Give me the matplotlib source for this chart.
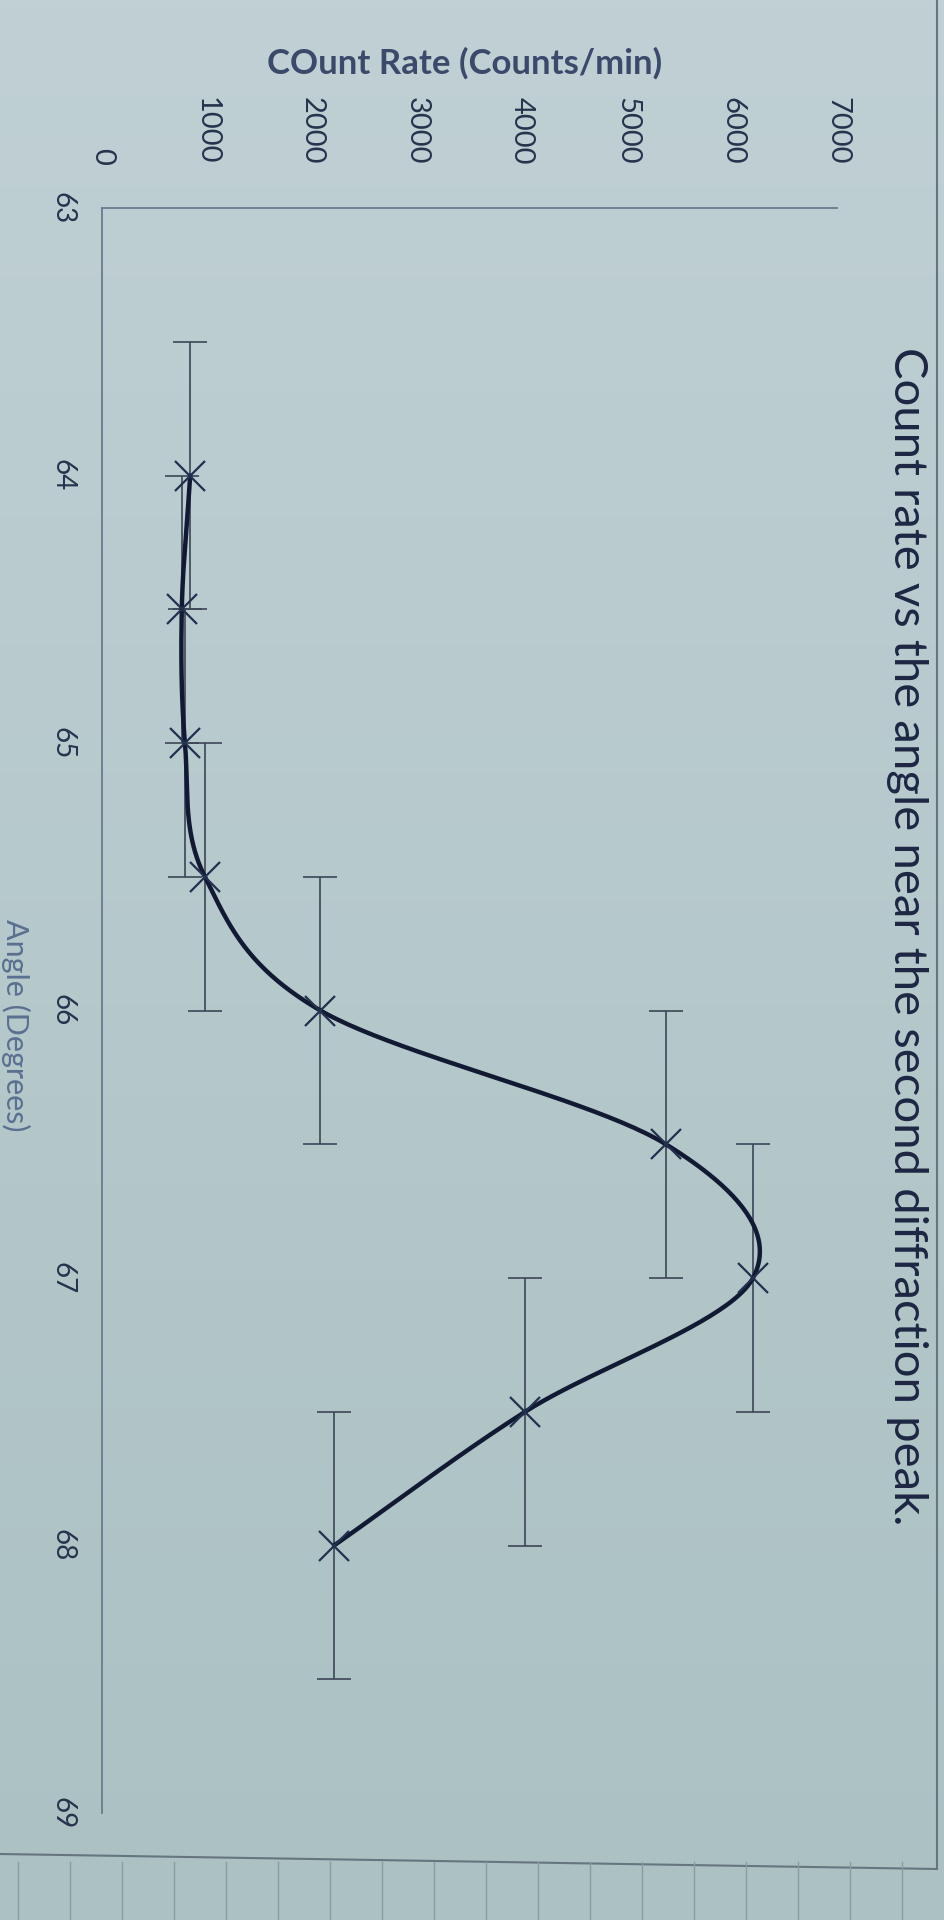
import numpy as np
import matplotlib
matplotlib.use('Agg')
import matplotlib.pyplot as plt
from matplotlib.colors import to_rgb
from matplotlib.lines import Line2D

angles = [64.0, 64.5, 65.0, 65.5, 66.0, 66.5, 67.0, 67.5, 68.0]
counts = [840, 760, 790, 980, 2080, 5370, 6200, 4030, 2210]
angle_err = [0.5, 0.5, 0.5, 0.5, 0.5, 0.5, 0.5, 0.5, 0.5]

angle_ticks = [63, 64, 65, 66, 67, 68, 69]
count_ticks = [0, 1000, 2000, 3000, 4000, 5000, 6000, 7000]

title = 'Count rate vs the angle near the second diffraction peak.'
count_label = 'COunt Rate (Counts/min)'
angle_label = 'Angle (Degrees)'

W, H = 944, 1920
plt.rcParams['font.family'] = ['Lato', 'DejaVu Sans']

fig = plt.figure(figsize=(W / 100, H / 100), dpi=100)


def px(x0, y0, x1, y1):
    # pixel box (from top-left) -> figure fraction rect
    return [x0 / W, 1 - y1 / H, (x1 - x0) / W, (y1 - y0) / H]


# photo-like background
bg = fig.add_axes([0, 0, 1, 1], zorder=-10)
top = np.array(to_rgb('#c0d0d4'))
bot = np.array(to_rgb('#abc1c2'))
t = np.linspace(0, 1, 256)[:, None]
grad = (top * (1 - t) + bot * t)[:, None, :]
bg.imshow(grad, aspect='auto', extent=[0, 1, 0, 1])
bg.set_xlim(0, 1)
bg.set_ylim(0, 1)
bg.axis('off')

# chart is shown rotated: angle runs down, count rate runs right
ax = fig.add_axes(px(102, 208, 837, 1813))
ax.set_facecolor('none')
ax.set_xlim(0, 7000)
ax.set_ylim(69, 63)

for side in ['right', 'bottom']:
    ax.spines[side].set_visible(False)
for side in ['left', 'top']:
    ax.spines[side].set_color('#687c8d')
    ax.spines[side].set_linewidth(1.3)

tick_color = '#27324d'
ax.xaxis.tick_top()
ax.set_xticks(count_ticks)
ax.set_xticklabels([str(c) for c in count_ticks], rotation=270, ha='center', va='bottom',
                   fontsize=21, color=tick_color)
ax.tick_params(axis='x', length=0, pad=31)
ax.set_yticks(angle_ticks)
ax.set_yticklabels([str(a) for a in angle_ticks], rotation=270, ha='right', va='center',
                   fontsize=20, color=tick_color)
ax.tick_params(axis='y', length=0, pad=19)

ax.errorbar(counts, angles, yerr=angle_err, fmt='none', ecolor='#3c4655',
            elinewidth=1.2, capsize=12, capthick=1.2, zorder=2)

# smoothed line through the points (Catmull-Rom in screen space, like Excel)
pts = ax.transData.transform(np.column_stack([counts, angles]))
p = np.vstack([2 * pts[0] - pts[1], pts, 2 * pts[-1] - pts[-2]])
s = np.linspace(0, 1, 50)[:, None]
seg = []
for i in range(1, len(p) - 2):
    p0, p1, p2, p3 = p[i - 1], p[i], p[i + 1], p[i + 2]
    c = 0.5 * ((2 * p1) + (-p0 + p2) * s + (2 * p0 - 5 * p1 + 4 * p2 - p3) * s ** 2
               + (-p0 + 3 * p1 - 3 * p2 + p3) * s ** 3)
    seg.append(c)
curve = ax.transData.inverted().transform(np.vstack(seg))
ax.plot(curve[:, 0], curve[:, 1], color='#121a33', lw=3.2, zorder=3,
        solid_capstyle='round')
ax.plot(counts, angles, linestyle='none', marker='x', ms=22, mew=1.6,
        color='#22304f', zorder=4)

fig.text(907 / W, 1 - 936 / H, title, rotation=270, ha='center', va='center',
         fontsize=34, color='#1d2744')
fig.text(465 / W, 1 - 63 / H, count_label, ha='center', va='center',
         fontsize=25, fontweight='bold', color='#3b4a6b')
fig.text(16 / W, 1 - 1025 / H, angle_label, rotation=270, ha='center', va='center',
         fontsize=22, color='#5a7090')

# chart border and spreadsheet grid showing below it
edge = '#65767e'
fig.add_artist(Line2D([937 / W, 937 / W], [1, 1 - 1869 / H], color=edge, lw=1.5))
fig.add_artist(Line2D([0, 937 / W], [1 - 1854 / H, 1 - 1869 / H], color=edge, lw=1.5))
for gx in range(18, W, 52):
    fig.add_artist(Line2D([gx / W, gx / W], [0, 1 - 1862 / H], color='#8a9ca3', lw=1.0))

fig.savefig('out.png', dpi=100)
